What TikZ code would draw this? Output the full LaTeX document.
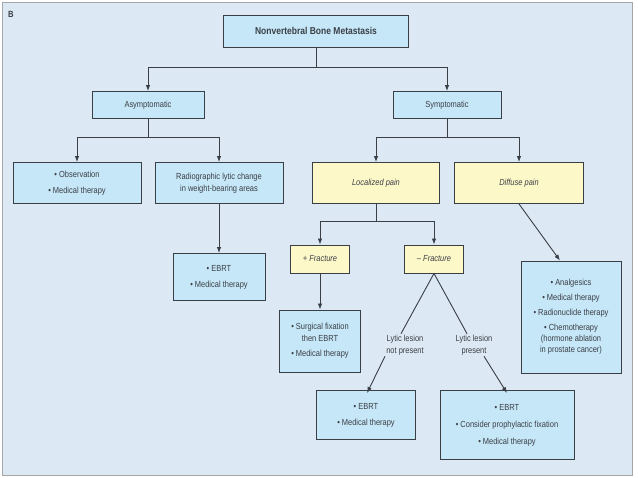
\documentclass[tikz,border=0pt]{standalone}
\usepackage{fontspec}
\setmainfont{Liberation Sans}[FakeStretch=0.85]
\usetikzlibrary{arrows.meta}
\definecolor{bg}{HTML}{DCE8F4}
\definecolor{bx}{HTML}{C6E7F8}
\definecolor{yl}{HTML}{FDF8C8}
\definecolor{ln}{HTML}{3A3F45}
\begin{document}
\begin{tikzpicture}[x=1pt,y=-1pt,
  box/.style={draw=ln,line width=0.9pt,fill=bx,align=center,inner sep=0pt,text=ln,font=\fontsize{8.8}{16}\selectfont},
  ybox/.style={box,fill=yl,font=\fontsize{8.8}{16}\selectfont\itshape},
  arr/.style={draw=ln,line width=0.9pt,-{Latex[length=6pt,width=4.5pt]}},
  ln/.style={draw=ln,line width=0.9pt},
  lab/.style={align=center,text=ln,font=\fontsize{8.8}{12}\selectfont,inner sep=1pt}]
\useasboundingbox (0,0) rectangle (638,478);
\fill[white] (0,0) rectangle (638,478);
\draw[fill=bg,draw=gray!70,line width=0.8pt] (2,2) rectangle (632,475);
\node[font=\bfseries\small,text=ln] (B) at (11,14) {B};
\node[box,minimum width=185,minimum height=32,font=\fontsize{10}{12}\selectfont\bfseries] (t) at (316,31) {Nonvertebral Bone Metastasis};
\node[box,minimum width=112,minimum height=27] (as) at (148,105) {Asymptomatic};
\node[box,minimum width=108,minimum height=27] (sy) at (447,105) {Symptomatic};
\node[box,minimum width=128,minimum height=41] (ob) at (77,183) {• Observation\\• Medical therapy};
\node[box,minimum width=128,minimum height=41,font=\fontsize{8.8}{12.5}\selectfont] (ra) at (219,183) {Radiographic lytic change\\in weight-bearing areas};
\node[ybox,minimum width=127,minimum height=41] (lp) at (376,183) {Localized pain};
\node[ybox,minimum width=129,minimum height=41] (dp) at (519,183) {Diffuse pain};
\node[box,minimum width=92,minimum height=47] (e1) at (219,277) {• EBRT\\• Medical therapy};
\node[ybox,minimum width=59,minimum height=28] (pf) at (320,259) {+ Fracture};
\node[ybox,minimum width=59,minimum height=28] (mf) at (434,259) {– Fracture};
\node[box,minimum width=100,minimum height=112,font=\fontsize{8.8}{15}\selectfont] (an) at (571,317) {• Analgesics\\• Medical therapy\\• Radionuclide therapy\\• Chemotherapy\\[-4pt] (hormone ablation\\[-4pt] in prostate cancer)};
\node[box,minimum width=81,minimum height=62,font=\fontsize{8.8}{12}\selectfont] (sf) at (320,341) {• Surgical fixation\\then EBRT\\[3pt]• Medical therapy};
\node[box,minimum width=99,minimum height=49] (e2) at (366,415) {• EBRT\\• Medical therapy};
\node[box,minimum width=134,minimum height=69,font=\fontsize{8.8}{17}\selectfont] (e3) at (507,425) {• EBRT\\• Consider prophylactic fixation\\• Medical therapy};
\node[lab] (l1) at (405,345) {Lytic lesion\\not present};
\node[lab] (l2) at (474,345) {Lytic lesion\\present};
\draw[ln] (t.south) -- ++(0,20) coordinate (c1);
\draw[arr] (c1) -| (as.north);
\draw[arr] (c1) -| (sy.north);
\draw[ln] (as.south) -- ++(0,19) coordinate (c2);
\draw[arr] (c2) -| (ob.north);
\draw[arr] (c2) -| (ra.north);
\draw[ln] (sy.south) -- ++(0,19) coordinate (c3);
\draw[arr] (c3) -| (lp.north);
\draw[arr] (c3) -| (dp.north);
\draw[arr] (ra.south) -- (e1.north);
\draw[ln] (lp.south) -- ++(0,18) coordinate (c4);
\draw[arr] (c4) -| (pf.north);
\draw[arr] (c4) -| (mf.north);
\draw[arr] (pf.south) -- (sf.north);
\draw[arr] (dp.south) -- ([xshift=-11pt]an.north);
\draw[ln] (mf.south) -- ([xshift=-4pt]l1.north);
\draw[ln] (mf.south) -- ([xshift=-7pt]l2.north);
\draw[arr] ([xshift=-20pt]l1.south) -- ([xshift=1pt,yshift=-3pt]e2.north);
\draw[arr] ([xshift=10pt]l2.south) -- ([yshift=-3pt]e3.north);
\end{tikzpicture}
\end{document}
